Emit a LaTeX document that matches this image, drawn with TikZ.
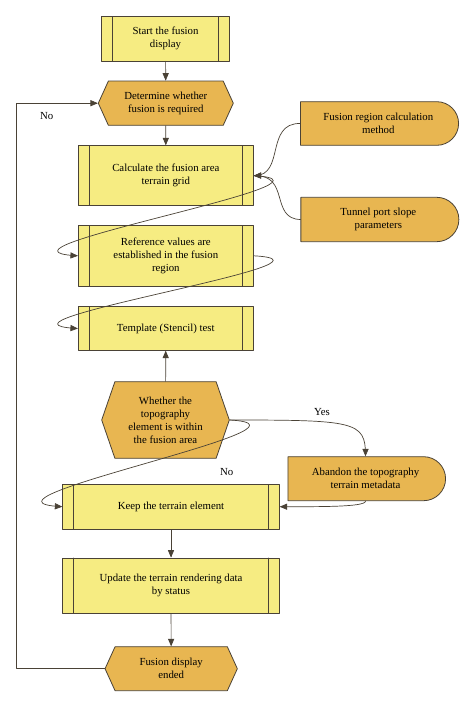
\documentclass[tikz,border=0pt]{standalone}
\usepackage{fontspec}
\setmainfont{Liberation Serif}
\usepackage{tikz}
\usetikzlibrary{arrows}
\usetikzlibrary{shapes.symbols}
\usetikzlibrary{shapes.misc}

\definecolor{yelfill}{HTML}{F6EC82}
\definecolor{orafill}{HTML}{E8B651}
\definecolor{edgecol}{HTML}{4A4236}

\begin{document}
\begin{tikzpicture}[line cap=round,line join=round,>=triangle 45,x=1pt,y=-1pt,
    font=\fontsize{10.8}{13}\selectfont,
    link/.style={draw=edgecol, line width=0.7pt},
    proc/.style={rectangle, draw=edgecol, fill=yelfill, line width=0.8pt, align=center, inner sep=0pt,
        path picture={\draw[edgecol, line width=0.8pt]
            ([xshift=11pt]path picture bounding box.south west) -- ([xshift=11pt]path picture bounding box.north west)
            ([xshift=-11pt]path picture bounding box.south east) -- ([xshift=-11pt]path picture bounding box.north east);}},
    hexa/.style={signal, signal to=east and west, draw=edgecol, fill=orafill, line width=0.8pt, align=center, inner sep=0pt},
    param/.style={rounded rectangle, rounded rectangle left arc=none, draw=edgecol, fill=orafill, line width=0.8pt, align=center, inner sep=0pt}]
    \useasboundingbox (0,0) rectangle (474,708);

    % main column
    \node[proc, minimum width=127.6, minimum height=44.3] (start) at (165.5,38.8) {Start the fusion\\display};
    \node[hexa, minimum width=135, minimum height=44.3, signal pointer angle=131] (determine) at (165.8,103.2) {Determine whether\\fusion is required};
    \node[proc, minimum width=175, minimum height=60] (calc) at (165.8,175.7) {Calculate the fusion area\\terrain grid};
    \node[proc, minimum width=175, minimum height=60.3] (refval) at (165.8,255.8) {Reference values are\\established in the fusion\\region};
    \node[proc, minimum width=175, minimum height=43.6] (stencil) at (165.8,328.5) {Template (Stencil) test};
    \node[hexa, minimum width=127.6, minimum height=76.6, signal pointer angle=142] (within) at (165.5,420) {Whether the\\topography\\element is within\\the fusion area};
    \node[proc, minimum width=216.6, minimum height=44.7] (keep) at (171,506.7) {Keep the terrain element};
    \node[proc, minimum width=216.6, minimum height=55.7] (update) at (171,585.8) {Update the terrain rendering data\\by status};
    \node[hexa, minimum width=132.3, minimum height=44, signal pointer angle=131] (ended) at (171.2,668.7) {Fusion display\\ended};

    % side inputs
    \node[param, minimum width=158, minimum height=43.6] (method) at (378.3,123.5) {Fusion region calculation\\method};
    \node[param, minimum width=158, minimum height=44.4] (slope) at (378.3,219.5) {Tunnel port slope\\parameters};
    \node[param, minimum width=157.6, minimum height=44] (abandon) at (365.5,478.7) {Abandon the topography\\terrain metadata};

    \coordinate (loopcorner) at (16.7,668.7);

    \draw[link, ->] (start) -- (determine);
    \draw[link, ->] (determine) -- (calc);
    \draw[link, ->] (method.west) .. controls (265,123) and (285,175) .. (calc.east);
    \draw[link, ->] (slope.west) .. controls (270,219) and (290,175) .. (calc.east);
    \draw[link, ->] (calc.east) .. controls +(110,6) and +(-110,-6) .. (refval.west);
    \draw[link, ->] (refval.east) .. controls +(110,6) and +(-110,-6) .. (stencil.west);
    \draw[link, ->] (within) -- (stencil);
    \draw[link, ->] (within.east) .. controls +(125,0) and +(0,-35) .. (abandon.north);
    \draw[link, ->] (within.east) .. controls +(110,6) and +(-110,-6) .. (keep.west);
    \draw[link, ->] (abandon.south) .. controls +(0,6) and +(40,0) .. (keep.east);
    \draw[link, ->] (keep) -- (update);
    \draw[link, ->] (update) -- (ended);
    \draw[link, ->] (ended.west) -- (loopcorner) |- (determine.west);

    \node at (322,411.7) {Yes};
    \node at (226.7,472.3) {No};
    \node at (46.7,116) {No};
\end{tikzpicture}
\end{document}
